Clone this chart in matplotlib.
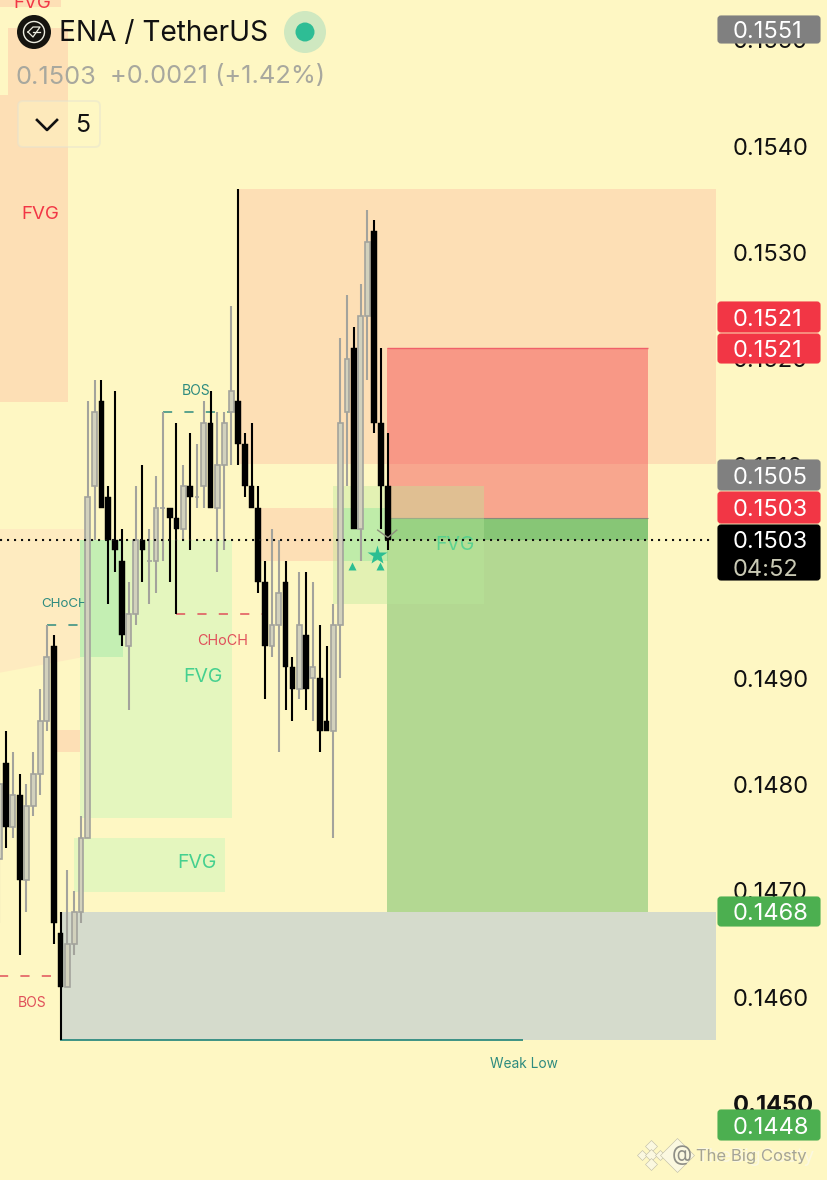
import numpy as np
import matplotlib
matplotlib.use("Agg")
import matplotlib.pyplot as plt
from matplotlib.patches import Circle, FancyBboxPatch, Rectangle

plt.rcParams['font.family'] = ['Inter', 'DejaVu Sans']

BG = '#FEF7C3'
BLACK = '#000000'
GRAY = '#A3A39C'
GRAY_FILL = '#D2D1BC'
RED = '#F23645'
TEAL = '#2E8B7F'
GREEN_TXT = '#45D08F'

# ===== OHLC, one per bar =====
opens = [.1473, .1482, .1476, .1479, .1471, .1478, .1481, .1486, .1493, .1466, .1461, .1465, .1468, .1475,
         .1508, .1516, .1507, .1503, .1501, .1493, .1496, .1503, .1501, .1501, .1506, .1506, .1505, .1504,
         .1508, .1507, .1508, .1514, .1506, .1510, .1515, .1516, .1512, .1508, .1506, .1499, .1493, .1495,
         .1499, .1491, .1489, .1494, .1490, .1490, .1486, .1485, .1495, .1515, .1521, .1504, .1524, .1532,
         .1514, .1508]
highs = [.1482, .1485, .1483, .1481, .1480, .1483, .1489, .1495, .1494, .1468, .1472, .1470, .1477, .1516,
         .1518, .1518, .1508, .1517, .1504, .1499, .1508, .1510, .1504, .1509, .1515, .1506, .1514, .1510,
         .1513, .1512, .1516, .1517, .1515, .1515, .1525, .1536, .1513, .1514, .1508, .1501, .1504, .1503,
         .1501, .1492, .1500, .1500, .1499, .1495, .1493, .1497, .1522, .1526, .1523, .1527, .1534, .1533,
         .1521, .1513]
lows = [.1467, .1474, .1475, .1464, .1468, .1477, .1479, .1485, .1465, .1456, .1461, .1464, .1467, .1475,
        .1503, .1506, .1497, .1500, .1493, .1487, .1495, .1499, .1497, .1498, .1501, .1499, .1496, .1503,
        .1502, .1506, .1506, .1506, .1500, .1502, .1510, .1510, .1507, .1506, .1498, .1488, .1492, .1483,
        .1487, .1486, .1488, .1487, .1486, .1483, .1485, .1475, .1490, .1508, .1504, .1501, .1518, .1513,
        .1504, .1502]
closes = [.1480, .1476, .1479, .1471, .1478, .1481, .1486, .1492, .1467, .1461, .1465, .1468, .1475, .1507,
          .1515, .1506, .1503, .1502, .1494, .1496, .1503, .1502, .1501, .1506, .1506, .1505, .1504, .1508,
          .1507, .1507, .1514, .1506, .1510, .1514, .1517, .1512, .1508, .1506, .1499, .1493, .1495, .1498,
          .1491, .1489, .1495, .1489, .1491, .1485, .1485, .1495, .1514, .1520, .1504, .1524, .1531, .1514,
          .1508, .1503]

# ===== Axis =====
y_ticks = [.1450, .1460, .1470, .1480, .1490, .1500, .1510, .1520, .1530, .1540, .1550]
y_tick_labels = ['0.1450', '0.1460', '0.1470', '0.1480', '0.1490', '', '0.1510', '0.1520', '0.1530', '0.1540', '0.1550']
last_price = .1503

# ===== Zones: bar start, bar end, price low, price high =====
zone_orange = [(1.3, 10.1, .15159, .15511), (0.0, 10.1, .15159, .15448), (0.0, 9.07, .15531, .1560),
               (35.0, 105.1, .15101, .1536), (37.95, 57.0, .1501, .1506), (8.2, 12.6, .1483, .14851),
               (18.4, 19.5, .1499, .1500)]
zone_green = [(11.85, 34.1, .14768, .1503), (11.0, 33.1, .14699, .1475)]
zone_green_dark = [(11.85, 18.2, .1492, .1503), (50.0, 57.0, .1501, .1506)]
zone_overlay = (49.0, 71.1, .1497, .1508)
zone_demand = (8.9, 105.1, .1456, .1468)
position_bars = (56.9, 95.1)
position_stop = (.1505, .1521)
position_target = (.1468, .1505)
position_entry = (.1503, .1505)

# ===== Structure lines: bar start, bar end, price =====
bos_up = (24.0, 34.0, .1515)
choch_up = (7.0, 12.0, .1495)
choch_down = (26.0, 39.0, .1496)
bos_down = (0.0, 8.0, .1462)
weak_low = (8.9, 76.8, .1456)

# ===== Right hand labels =====
badge_texts = ['0.1551', '0.1521', '0.1521', '0.1505', '0.1503', '0.1468', '0.1448']
badge_colors = ['#808080', RED, RED, '#808080', RED, '#4CAF50', '#4CAF50']
badge_tops = [15, 301, 333, 459, 491, 896, 1109]
badge_bottoms = [44, 333, 364, 491, 524, 927, 1141]

fig = plt.figure(figsize=(8.28, 11.8), dpi=100, facecolor=BG)
ax = fig.add_axes([0, 0, 1, 1], facecolor=BG)
ax.set_xlim(0.12, 121.53)
ax.set_ylim(.1540 - (1180 - 146) / 106400, .1540 + 146 / 106400)

ax.yaxis.tick_right()
ax.set_yticks(y_ticks)
ax.set_yticklabels(y_tick_labels, fontsize=17, color='#111111')
ax.tick_params(axis='y', length=0, pad=-68.5)
ax.set_xticks([])
for s in ax.spines.values():
    s.set_visible(False)
ax.get_yticklabels()[0].set_fontweight('bold')


def box(x0, x1, p0, p1, color, alpha=1.0, z=1.0):
    ax.add_patch(Rectangle((x0, p0), x1 - x0, p1 - p0, facecolor=color, edgecolor='none', alpha=alpha, zorder=z))


# Zones
ax.fill([0.12, 12.6, 12.6, 0.12], [.14905, .1492, .1504, .1504], color='#FEEBC0', lw=0, zorder=0.9)
for z in zone_orange:
    box(*z, '#FDDFB5', z=1.0)
for z in zone_green:
    box(*z, '#E4F6BE', z=1.1)
for z in zone_green_dark:
    box(*z, '#C4EFB3', z=1.2)
box(*zone_demand, '#D5DBCC', z=1.3)
box(*position_bars, *position_stop, RED, alpha=0.42, z=1.4)
box(*position_bars, *position_target, '#4CAF50', alpha=0.42, z=1.4)
box(*position_bars, *position_entry, '#4CAF50', alpha=0.42, z=1.45)
ax.hlines(position_stop[1], *position_bars, color='#F0606A', lw=1, zorder=1.5)
ax.hlines(position_stop[0], *position_bars, color='#8A8A7A', lw=0.8, zorder=1.5)
box(*zone_overlay, '#B9E89A', alpha=0.38, z=1.6)

# Labels under the candles
label_style = dict(ha='center', va='center', zorder=2)
ax.text(4.9, .15534, 'FVG', color=RED, fontsize=13.5, **label_style)
ax.text(6.0, .15336, 'FVG', color=RED, fontsize=13.5, **label_style)
ax.text(29.9, .14901, 'FVG', color=GREEN_TXT, fontsize=14, **label_style)
ax.text(29.0, .14726, 'FVG', color=GREEN_TXT, fontsize=14, **label_style)
ax.text(66.8, .15025, 'FVG', color=GREEN_TXT, fontsize=14, alpha=0.8, **label_style)
ax.text(28.9, .15170, 'BOS', color=TEAL, fontsize=10, **label_style)
ax.text(9.6, .14970, 'CHoCH', color=TEAL, fontsize=9.6, **label_style)
ax.text(32.8, .14935, 'CHoCH', color='#E0505A', fontsize=10.3, **label_style)
ax.text(4.8, .14595, 'BOS', color='#E0505A', fontsize=10, **label_style)
ax.text(76.9, .14537, 'Weak Low', color=TEAL, fontsize=9.9, **label_style)

# Structure
dash = (0, (6, 8))
ax.hlines(bos_up[2], bos_up[0], bos_up[1], color=TEAL, lw=1.1, ls=dash, zorder=2)
ax.hlines(choch_up[2], choch_up[0], choch_up[1], color=TEAL, lw=1.1, ls=dash, zorder=2)
ax.hlines(choch_down[2], choch_down[0], choch_down[1], color='#E0505A', lw=1.1, ls=dash, zorder=2)
ax.hlines(bos_down[2], bos_down[0], bos_down[1], color='#E0505A', lw=1.1, ls=dash, zorder=2)
ax.hlines(weak_low[2], weak_low[0], weak_low[1], color=TEAL, lw=1.3, zorder=2)

# Candles
bars = np.arange(len(opens))
o, h, l, c = map(np.array, (opens, highs, lows, closes))
up = c >= o
wick_colors = [GRAY if u else BLACK for u in up]
body_low = np.minimum(o, c)
body_high = np.maximum(o, c)
for i in bars:
    z = 3 + i * 0.001
    ax.vlines(i, l[i], h[i], color=wick_colors[i], lw=1.5, zorder=z)
    if up[i]:
        ax.add_patch(Rectangle((i - 0.36, body_low[i]), 0.72, body_high[i] - body_low[i], facecolor=GRAY_FILL,
                               edgecolor=GRAY, lw=1.2, zorder=z + 0.0005))
    else:
        ax.add_patch(Rectangle((i - 0.42, body_low[i]), 0.84, body_high[i] - body_low[i], facecolor=BLACK,
                               edgecolor=BLACK, lw=0.3, zorder=z + 0.0005))

# Last price line
ax.hlines(last_price, 0.12, 104.5, color='#111111', lw=1.5, ls=(0, (1, 2.36)), zorder=3.5)

# Signals
ax.plot([55.4], [.15016], marker='*', ms=15, color='#2CBE92', mec='none', zorder=4)
ax.plot([51.8, 55.9], [.15005, .15005], ls='none', marker='^', ms=6, color='#2CBE92', mec='none', zorder=4)
ax.plot([55.5, 57.0, 58.3], [.15039, .15032, .15039], color='#8E8E7E', lw=1, zorder=4)

# ===== Overlay in screen pixels: header, badges, watermark =====
top = fig.add_axes([0, 0, 1, 1], facecolor='none')
top.set_xlim(0, 828)
top.set_ylim(1180, 0)
top.axis('off')

# Badges
for text, col, t, b in zip(badge_texts, badge_colors, badge_tops, badge_bottoms):
    top.add_patch(FancyBboxPatch((718, t + 1), 102, b - t - 2, boxstyle='round,pad=0,rounding_size=3', facecolor=col,
                                 edgecolor=col, lw=0.8))
    top.text(733, (t + b) / 2, text, color='white', fontsize=17, ha='left', va='center_baseline')
top.add_patch(FancyBboxPatch((718, 525), 102, 55, boxstyle='round,pad=0,rounding_size=3', facecolor='black',
                             edgecolor='black', lw=0.8))
top.text(733, 540, '0.1503', color='white', fontsize=17, ha='left', va='center_baseline')
top.text(733, 567, '04:52', color='#C9C9B4', fontsize=17, ha='left', va='center_baseline')

# Header
top.add_patch(Circle((34, 32), 17, facecolor='#15140F', edgecolor='none'))
top.add_patch(Circle((34, 32), 10.5, facecolor='none', edgecolor='#EDEDE0', lw=1))
top.plot([28, 33, 40, 33, 28], [32, 27, 27, 37, 32], color='#EDEDE0', lw=0.9)
top.plot([33, 40], [32, 32], color='#EDEDE0', lw=0.9)
top.text(59, 33, 'ENA / TetherUS', fontsize=20.2, color='#111111', ha='left', va='center')
top.add_patch(Circle((305, 32), 21, facecolor='#CFE8C0', edgecolor='none'))
top.add_patch(Circle((305, 32), 9.5, facecolor='#2EBD95', edgecolor='none'))
top.text(16, 77, '0.1503', fontsize=18.3, color='#A8A89E', ha='left', va='center')
top.text(110, 77, '+0.0021 (+1.42%)', fontsize=18.3, color='#A8A89E', ha='left', va='center')
top.add_patch(FancyBboxPatch((18, 101), 82, 46, boxstyle='round,pad=0,rounding_size=5', facecolor='#FEF7C3',
                             edgecolor='#E3E2D2', lw=1.4, alpha=0.45))
top.plot([37, 47, 57], [120, 130, 120], color='#111111', lw=1.9)
top.text(83, 125, '5', fontsize=18, color='#111111', ha='center', va='center')

# Watermark
for cx, cy, ms in [(642, 1155, 5), (651, 1146, 6), (651, 1155, 6), (651, 1164, 6), (660, 1155, 5), (677, 1155, 17)]:
    top.plot([cx], [cy], marker='D', ms=ms, color='#FBF8E0', mec='#BDBBA6', mew=0.4)
top.text(672, 1155, '@', fontsize=15, color='#8E8E86', ha='left', va='center')
top.text(696, 1157, 'TheBigCosty', fontsize=14, color='#FBF8E0', ha='left', va='center')
top.text(696, 1156, 'The Big Costy', fontsize=12, color='#8F8F86', ha='left', va='center', alpha=0.8)

fig.savefig('out.png', dpi=100, facecolor=BG)
